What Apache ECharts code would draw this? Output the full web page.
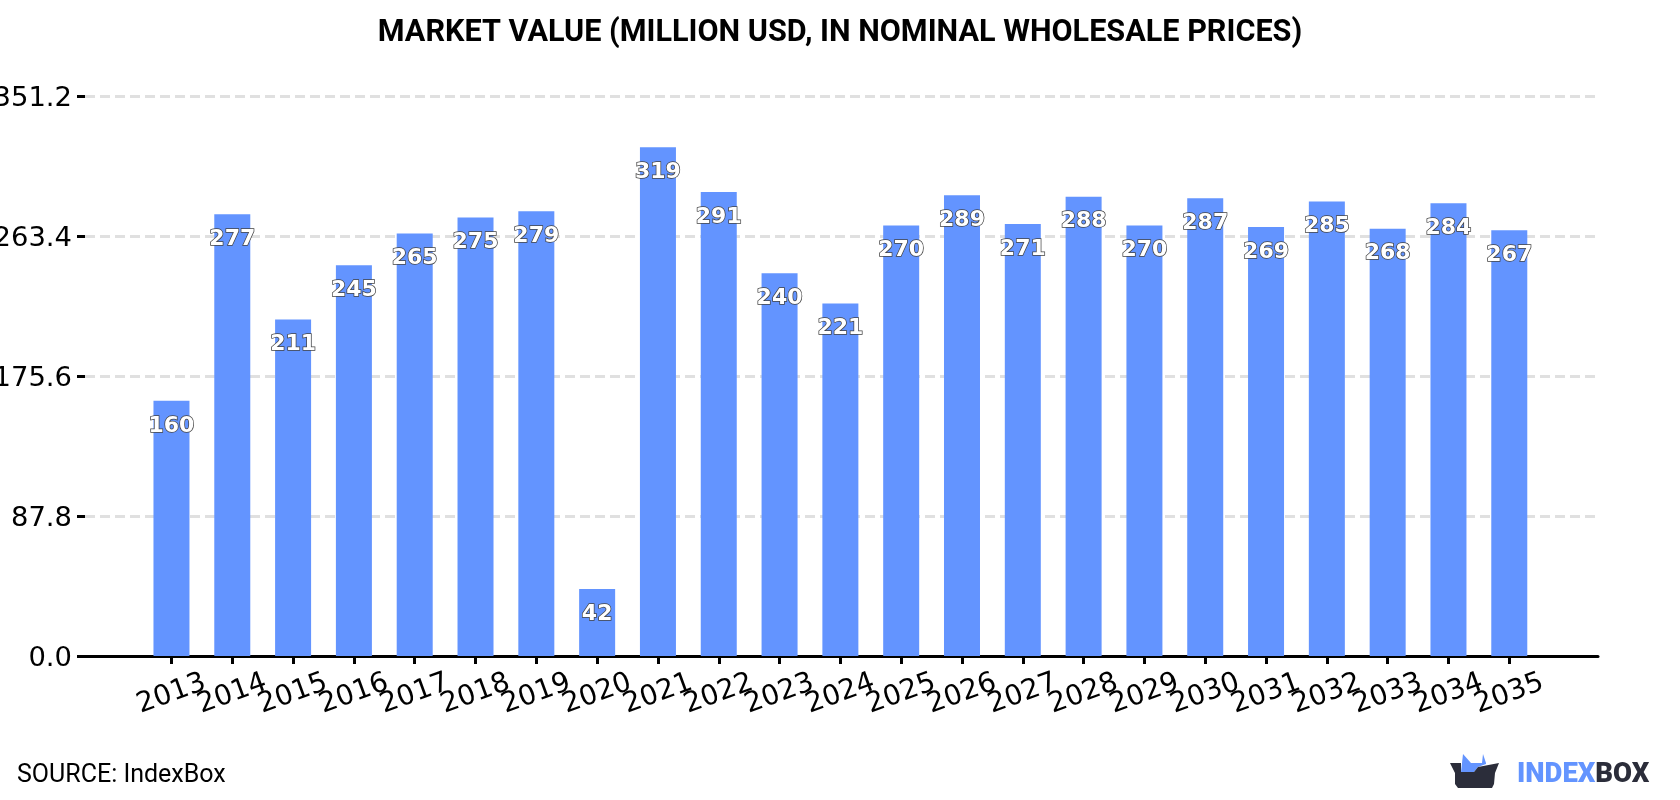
<!DOCTYPE html>
<html>
<head>
<meta charset="utf-8">
<style>html,body{margin:0;padding:0;background:#fff}#chart{width:1680px;height:800px}</style>
<script src="https://cdn.jsdelivr.net/npm/echarts@6/dist/echarts.min.js"></script>
</head>
<body>
<div id="chart"></div>
<script>
const years = [2013,2014,2015,2016,2017,2018,2019,2020,2021,2022,2023,2024,2025,2026,2027,2028,2029,2030,2031,2032,2033,2034,2035];
const marketValue = [160,277,211,245,265,275,279,42,319,291,240,221,270,289,271,288,270,287,269,285,268,284,267];
const titleText = 'MARKET VALUE (MILLION USD, IN NOMINAL WHOLESALE PRICES)';
const sourceText = 'SOURCE: IndexBox';

const BLUE = '#6394ff';
const DARK = '#2b2d3a';
const X_MIN = 2011.578;
const X_MAX = 2036.459;

const chart = echarts.init(document.getElementById('chart'), null, {renderer: 'canvas'});
chart.setOption({
  animation: false,
  backgroundColor: '#fff',
  title: {
    text: titleText,
    left: 'center',
    top: 13,
    textStyle: {fontFamily: 'Roboto', fontWeight: 'bold', fontSize: 30.6, color: '#000'}
  },
  grid: {left: 85, right: 82, top: 96, bottom: 144, containLabel: false, outerBoundsMode: 'none'},
  xAxis: {
    type: 'value',
    min: X_MIN,
    max: X_MAX,
    containShape: false,
    splitLine: {show: false},
    axisLine: {show: true, onZero: true, lineStyle: {color: '#000', width: 3}},
    axisTick: {show: true, customValues: years, length: 8, lineStyle: {color: '#000', width: 3}},
    axisLabel: {
      // blank labels at the axis ends keep the crowded year labels from being culled
      customValues: [X_MIN, ...years, X_MAX],
      hideOverlap: false,
      rotate: 20,
      margin: 38,
      align: 'center',
      verticalAlign: 'middle',
      fontFamily: 'DejaVu Sans',
      fontSize: 28,
      color: '#000',
      formatter: v => years.includes(v) ? String(v) : ''
    }
  },
  yAxis: {
    type: 'value',
    min: 0,
    max: 351.2,
    interval: 87.8,
    axisLine: {show: false},
    axisTick: {show: true, length: 8, lineStyle: {color: '#000', width: 3}},
    axisLabel: {
      margin: 13,
      fontFamily: 'DejaVu Sans',
      fontSize: 27.4,
      color: '#000',
      formatter: v => '{t|' + v.toFixed(1) + '}',
      rich: {t: {fontFamily: 'DejaVu Sans', fontSize: 27.4, color: '#000', padding: [5, 0, 0, 0]}}
    },
    splitLine: {show: true, lineStyle: {color: '#e0e0e0', width: 3, type: [10, 5]}}
  },
  series: [{
    type: 'bar',
    barWidth: 36,
    itemStyle: {color: BLUE},
    data: years.map((y, i) => [y, marketValue[i]]),
    label: {
      show: true,
      position: 'insideTop',
      distance: 14,
      fontFamily: 'DejaVu Sans',
      fontWeight: 'bold',
      fontSize: 22,
      color: '#fff',
      textBorderColor: '#444',
      textBorderWidth: 1.5,
      formatter: p => String(p.value[1])
    }
  }],
  graphic: [
    {type: 'text', left: 17, top: 763, style: {text: sourceText, fontFamily: 'Roboto', fontSize: 25, fill: '#000'}},
    // IndexBox logo: crown behind an open box, then the wordmark
    {type: 'polygon', shape: {points: [[1461,772],[1463,754],[1471,763],[1482,763],[1483,754],[1486,763],[1486,764],[1478,767],[1474,772]]}, style: {fill: BLUE}},
    {type: 'polygon', shape: {points: [[1450,763],[1461,763],[1461,772],[1474,772],[1478,767],[1499,763],[1495,773],[1494,784],[1492,788],[1458,788],[1455,784],[1455,773]]}, style: {fill: DARK}},
    {type: 'text', left: 1517, top: 761, style: {
      rich: {
        a: {fontFamily: 'Roboto', fontWeight: 900, fontSize: 27.5, fill: BLUE, textFill: BLUE, color: BLUE},
        b: {fontFamily: 'Roboto', fontWeight: 900, fontSize: 27.5, fill: DARK, textFill: DARK, color: DARK}
      },
      text: '{a|INDEX}{b|BOX}'
    }}
  ]
});
</script>
</body>
</html>
